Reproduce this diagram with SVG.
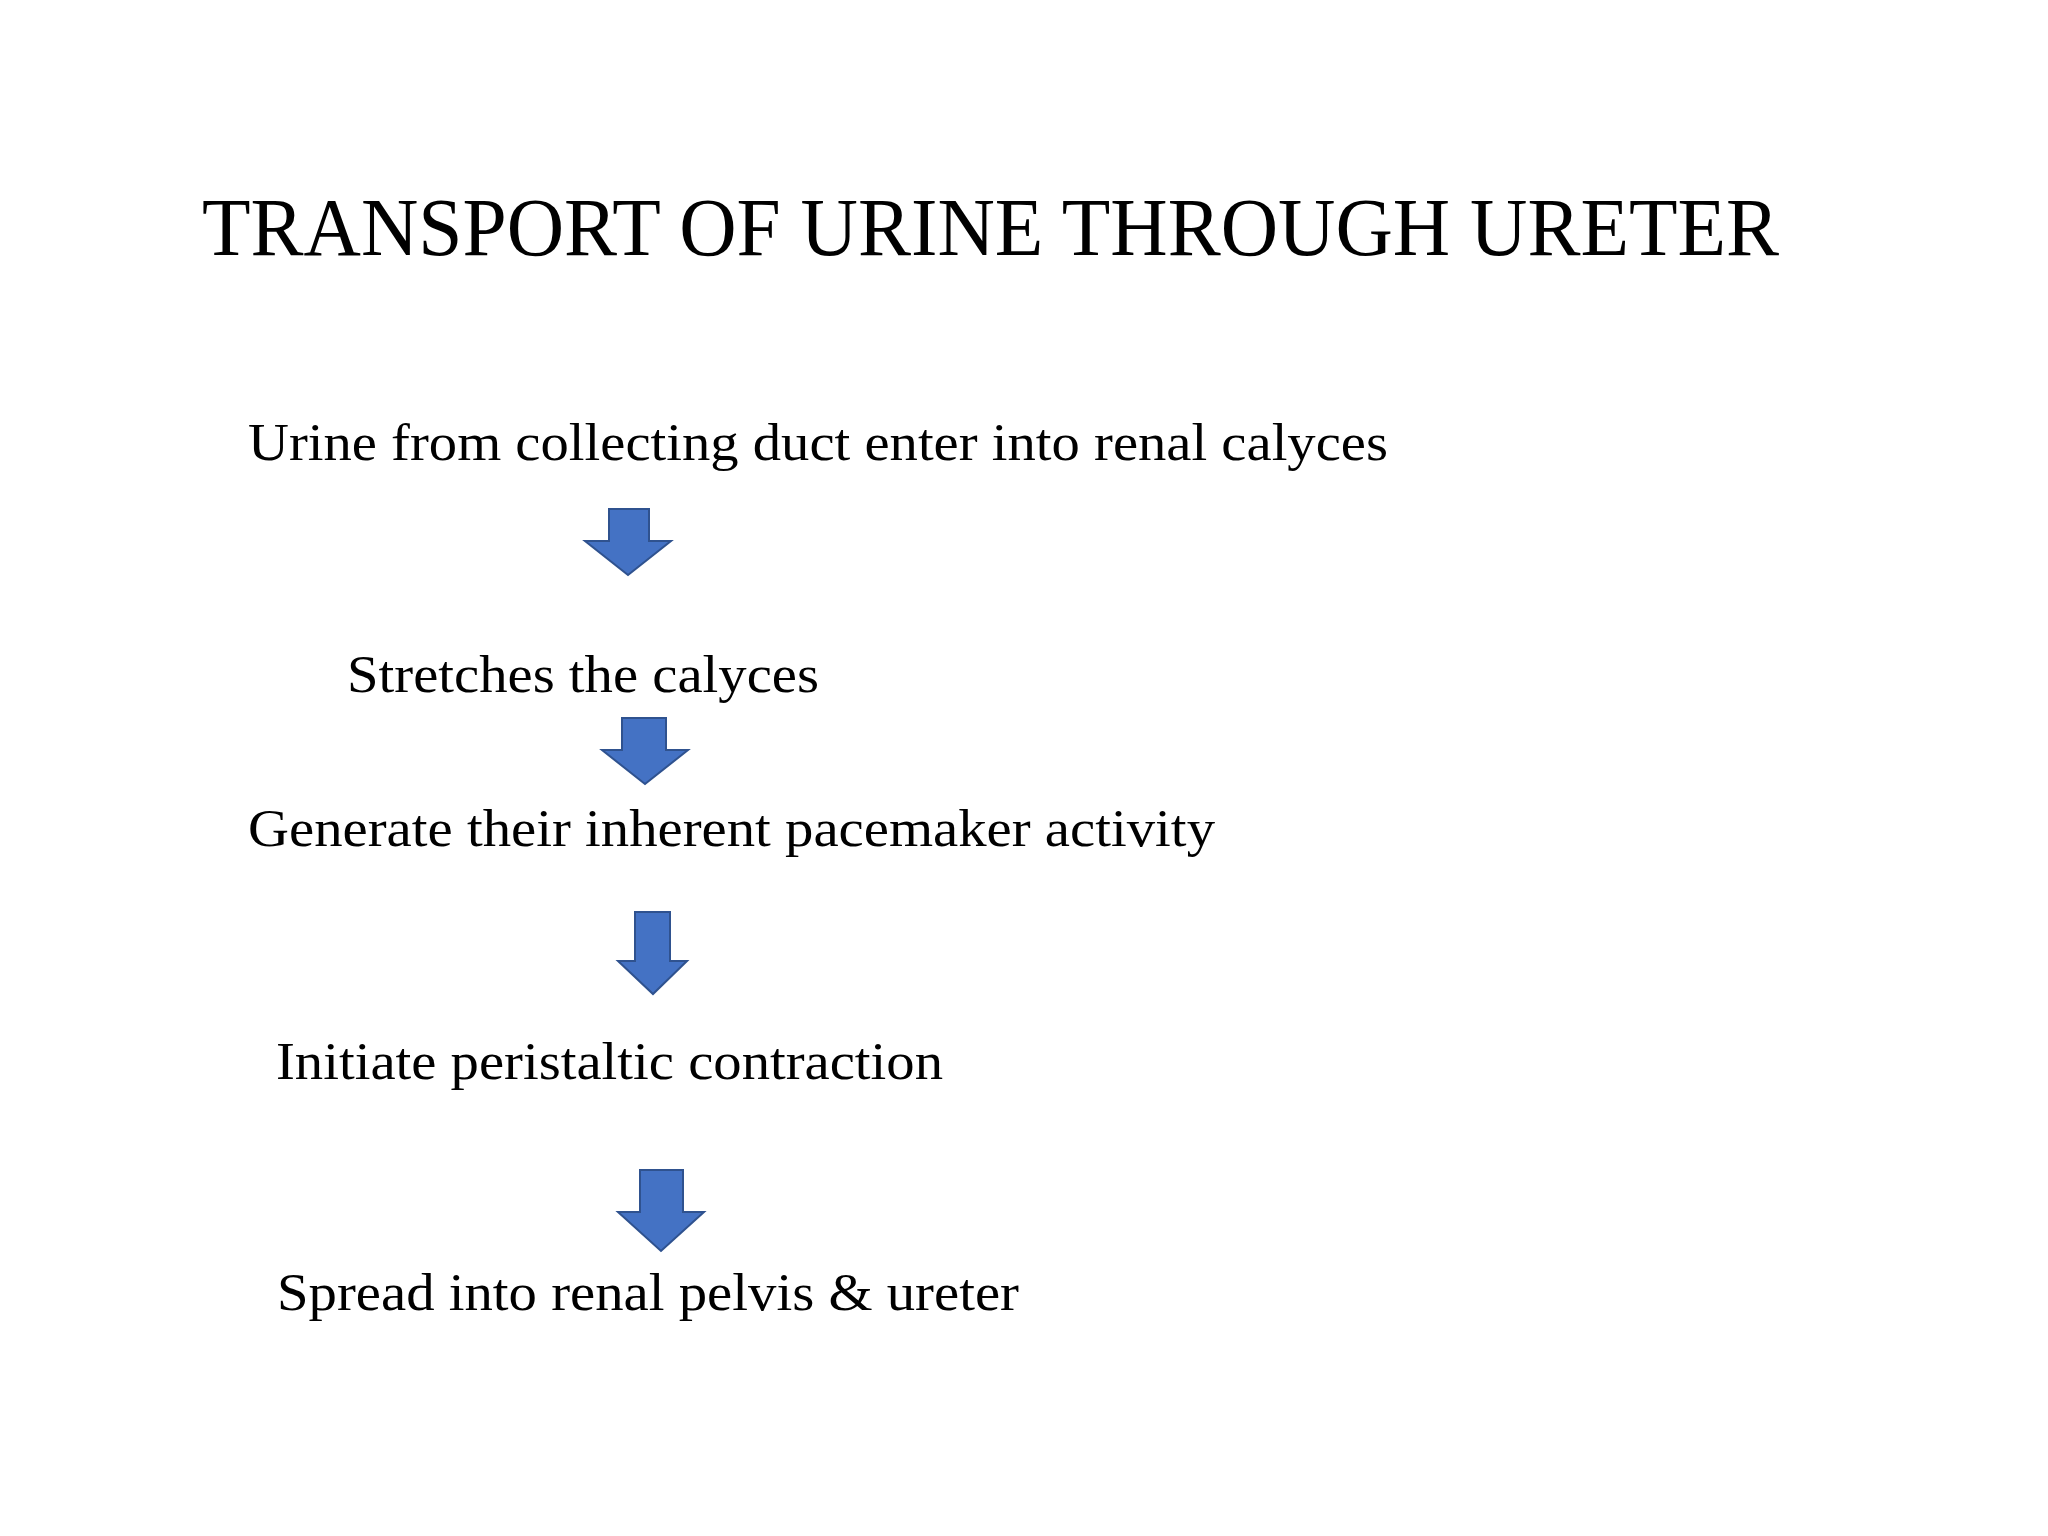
<svg xmlns="http://www.w3.org/2000/svg" width="2048" height="1536" viewBox="0 0 2048 1536">
<style>
text{font-family:"Liberation Serif","Times New Roman",serif;fill:#000}
.t{font-size:52px}
.a{fill:#4472C4;stroke:#2F528F;stroke-width:2}
</style>
<rect width="2048" height="1536" fill="#fff"/>
<text id="title" x="202" y="255" font-size="82" textLength="1577" lengthAdjust="spacingAndGlyphs">TRANSPORT OF URINE THROUGH URETER</text>
<g id="n1"><text class="t" x="248" y="460" textLength="1140" lengthAdjust="spacingAndGlyphs">Urine from collecting duct enter into renal calyces</text></g>
<g id="n2"><text class="t" x="347" y="692" textLength="472" lengthAdjust="spacingAndGlyphs">Stretches the calyces</text></g>
<g id="n3"><text class="t" x="248" y="846" textLength="967" lengthAdjust="spacingAndGlyphs">Generate their inherent pacemaker activity</text></g>
<g id="n4"><text class="t" x="276" y="1079" textLength="667" lengthAdjust="spacingAndGlyphs">Initiate peristaltic contraction</text></g>
<g id="n5"><text class="t" x="277" y="1310" textLength="742" lengthAdjust="spacingAndGlyphs">Spread into renal pelvis &amp; ureter</text></g>
<g id="connectors">
<polygon class="a" points="609,509 649,509 649,541 671,541 628,575 585,541 609,541"/>
<polygon class="a" points="622,718 666,718 666,750 688,750 645,784 602,750 622,750"/>
<polygon class="a" points="635,912 670,912 670,961 687,961 653,994 618,961 635,961"/>
<polygon class="a" points="640,1170 683,1170 683,1212 704,1212 661,1251 618,1212 640,1212"/>
</g>
</svg>
